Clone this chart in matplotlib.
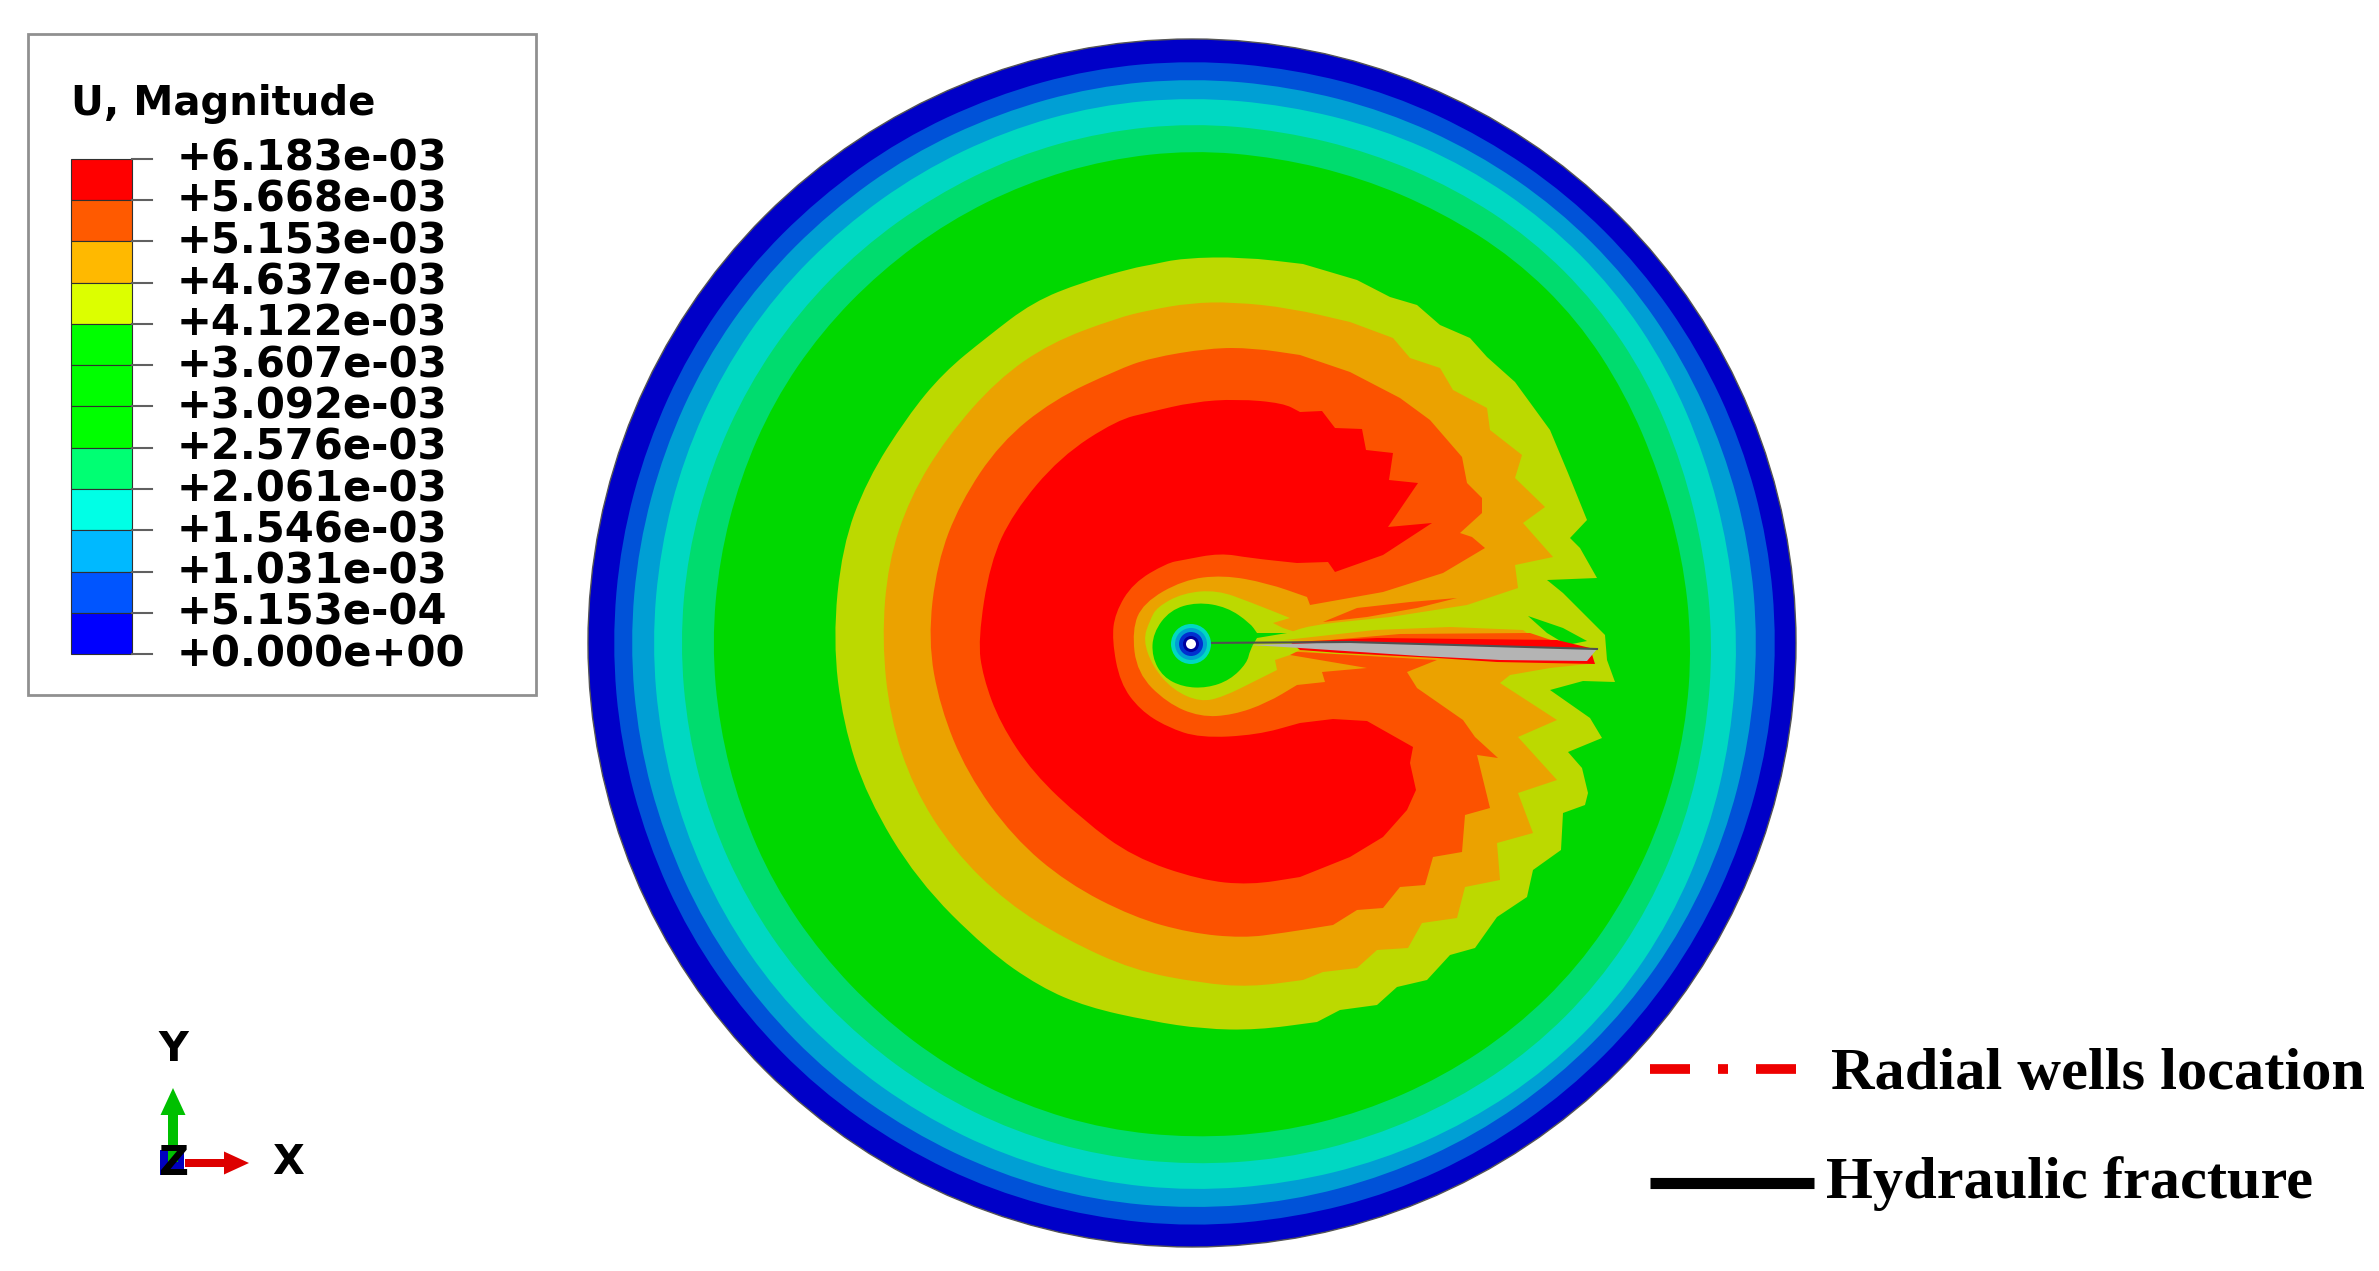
import numpy as np
import matplotlib
matplotlib.use("Agg")
import matplotlib.pyplot as plt
from matplotlib.patches import Circle, PathPatch, Rectangle
from matplotlib.path import Path

# colour scale of the legend
legend_title = "U, Magnitude"
legend_labels = ["+6.183e-03", "+5.668e-03", "+5.153e-03", "+4.637e-03", "+4.122e-03",
                 "+3.607e-03", "+3.092e-03", "+2.576e-03", "+2.061e-03", "+1.546e-03",
                 "+1.031e-03", "+5.153e-04", "+0.000e+00"]
legend_colors = ["#ff0000", "#ff5a00", "#ffb900", "#dcff00", "#00ff00", "#00ff00",
                 "#00ff00", "#00ff73", "#00ffe6", "#00b9ff", "#0055ff", "#0000ff"]

# outer rings, radius (px) every 10 deg, counter clockwise from +x
ring_angles = list(range(0, 360, 10))
ring_navy_blue = [585, 585, 585, 585, 585, 585, 584, 584, 583, 583, 583, 582, 582, 581, 581, 581, 580, 580,
                  580, 580, 580, 581, 581, 582, 582, 583, 583, 584, 584, 585, 585, 585, 585, 585, 585, 585]
ring_blue_sky = [566, 566, 566, 567, 568, 568, 567, 566, 565, 565, 565, 564, 564, 563, 563, 563, 562, 562,
                 562, 562, 562, 563, 563, 564, 564, 565, 566, 566, 567, 567, 568, 568, 568, 568, 567, 566]
ring_sky_teal = [546, 545, 546, 549, 551, 551, 550, 548, 546, 546, 546, 545, 544, 543, 543, 542, 541, 540,
                 540, 540, 541, 542, 543, 543, 544, 546, 547, 548, 549, 551, 553, 555, 555, 553, 550, 547]
ring_teal_mint = [521, 520, 522, 526, 528, 528, 525, 522, 520, 520, 519, 518, 516, 515, 514, 513, 512, 512,
                  512, 512, 513, 514, 515, 516, 518, 520, 521, 522, 524, 526, 528, 530, 530, 528, 525, 522]
ring_mint_green = [500, 498, 497, 500, 503, 502, 498, 495, 493, 493, 491, 489, 487, 485, 484, 483, 481, 480,
                   480, 480, 481, 483, 484, 486, 489, 492, 494, 495, 497, 499, 501, 503, 504, 503, 502, 501]

# contour outlines, image pixels
band_yellow = [(1150, 265), (1183, 258), (1243, 257), (1303, 264), (1357, 280), (1390, 297), (1417, 305),
               (1440, 325), (1470, 338), (1487, 357), (1515, 382), (1550, 430), (1568, 473), (1587, 520),
               (1570, 538), (1580, 548), (1597, 578), (1547, 580), (1563, 593), (1605, 635), (1607, 660),
               (1615, 682), (1583, 681), (1550, 690), (1590, 718), (1602, 738), (1568, 752), (1582, 768),
               (1588, 793), (1585, 805), (1563, 813), (1561, 850), (1533, 870), (1527, 897), (1497, 917),
               (1475, 948), (1450, 955), (1427, 980), (1397, 987), (1377, 1005), (1340, 1010), (1317, 1022),
               (1257, 1030), (1203, 1029), (1150, 1021), (1087, 1007), (1040, 987), (987, 950), (917, 880),
               (867, 797), (843, 723), (833, 640), (842, 547), (867, 480), (907, 417), (943, 373), (987, 337),
               (1033, 302), (1083, 282), (1133, 268)]
band_orange = [(1150, 310), (1190, 303), (1233, 302), (1290, 308), (1350, 322), (1393, 338), (1410, 358),
               (1440, 368), (1453, 390), (1487, 408), (1490, 430), (1522, 455), (1515, 478), (1545, 507),
               (1523, 523), (1553, 557), (1515, 565), (1518, 588), (1467, 605), (1390, 617), (1283, 628),
               (1283, 655), (1500, 655), (1597, 663), (1550, 668), (1510, 675), (1500, 683), (1557, 720),
               (1518, 737), (1557, 780), (1518, 793), (1533, 833), (1497, 843), (1500, 880), (1465, 887),
               (1457, 918), (1422, 923), (1408, 948), (1377, 950), (1357, 968), (1323, 972), (1303, 980),
               (1250, 987), (1200, 983), (1133, 970), (1067, 940), (1007, 903), (953, 850), (913, 787),
               (890, 717), (882, 640), (888, 563), (910, 497), (947, 437), (997, 380), (1050, 343), (1117, 318)]
band_scarlet = [(1150, 358), (1210, 348), (1253, 348), (1300, 355), (1350, 372), (1400, 398), (1430, 420),
                (1462, 457), (1467, 483), (1482, 498), (1482, 513), (1460, 533), (1472, 537), (1485, 548),
                (1443, 573), (1383, 592), (1310, 605), (1270, 610), (1270, 650), (1300, 652), (1437, 660),
                (1407, 672), (1417, 688), (1463, 720), (1475, 737), (1498, 758), (1477, 755), (1490, 808),
                (1465, 815), (1462, 852), (1433, 857), (1425, 885), (1400, 887), (1383, 908), (1357, 910),
                (1333, 925), (1283, 933), (1243, 938), (1190, 933), (1133, 917), (1067, 883), (1013, 837),
                (967, 773), (940, 707), (928, 640), (937, 563), (960, 503), (1000, 443), (1053, 400), (1117, 370)]
band_red = [(1150, 412), (1193, 402), (1237, 399), (1283, 403), (1300, 412), (1322, 411), (1335, 428),
            (1362, 429), (1366, 450), (1393, 453), (1389, 480), (1418, 483), (1388, 527), (1432, 523),
            (1383, 555), (1335, 572), (1328, 562), (1297, 563), (1250, 558), (1220, 553), (1183, 560),
            (1167, 563), (1133, 583), (1115, 613), (1112, 640), (1120, 683), (1140, 710), (1167, 727),
            (1200, 738), (1257, 735), (1300, 723), (1333, 719), (1367, 721), (1413, 747), (1410, 763),
            (1416, 790), (1407, 810), (1383, 837), (1350, 857), (1300, 877), (1250, 885), (1200, 880),
            (1133, 857), (1083, 820), (1033, 773), (1000, 723), (983, 677), (978, 640), (990, 563),
            (1013, 513), (1060, 457), (1117, 420)]
lens_scarlet = [(1323, 622), (1357, 608), (1410, 602), (1457, 598), (1417, 608), (1367, 617)]
bubble_orange = [(1132, 630), (1137, 673), (1167, 703), (1200, 717), (1233, 715), (1267, 703), (1297, 685),
                 (1325, 682), (1322, 672), (1367, 668), (1290, 655), (1283, 628), (1310, 605), (1307, 597),
                 (1267, 583), (1223, 575), (1183, 580), (1143, 603)]
bubble_yellow = [(1143, 640), (1153, 667), (1173, 690), (1200, 702), (1223, 697), (1257, 680), (1277, 670),
                 (1275, 660), (1290, 655), (1320, 640), (1283, 628), (1273, 623), (1290, 618), (1250, 602),
                 (1217, 590), (1183, 593), (1157, 607), (1150, 620)]
bubble_green = [(1153, 633), (1170, 610), (1197, 602), (1227, 607), (1250, 623), (1257, 633), (1287, 633),
                (1257, 638), (1250, 650), (1247, 663), (1230, 680), (1207, 688), (1183, 687), (1163, 677),
                (1152, 657)]
tip_green = [(1528, 616), (1563, 628), (1587, 641), (1567, 645), (1547, 633)]
strip_orange = [(1285, 640), (1375, 630), (1450, 627), (1523, 630), (1537, 641), (1563, 643), (1400, 645)]
strip_scarlet = [(1330, 640), (1400, 634), (1530, 633), (1560, 643), (1400, 648)]
fracture_red = [(1290, 642), (1377, 638), (1557, 640), (1590, 648), (1595, 664), (1497, 662), (1437, 658),
                (1340, 653), (1300, 650)]
fracture_grey = [(1250, 645), (1350, 642), (1597, 649), (1587, 661), (1500, 660), (1420, 656), (1360, 652),
                 (1300, 648)]
well_radii = [20, 16, 12, 8, 5]

legend_items = ["Radial wells location", "Hydraulic fracture"]

navy, blue, sky, teal, mint = "#0000c8", "#0052d8", "#009fd4", "#00d8c2", "#00dc6e"
green, yellow, orange, scarlet, red = "#00d800", "#bcd900", "#eba200", "#fc5200", "#ff0000"
well_colors = [teal, "#009fd4", "#0030d0", "#0000a0", "white"]

cx, cy = 1192, 643


def ring_points(radii):
    t = np.radians(ring_angles)
    return np.column_stack([cx + np.array(radii) * np.cos(t), cy - np.array(radii) * np.sin(t)])


# closed outline, corners left of sharp_from are rounded, the jagged ones stay
def outline_patch(points, color, sharp_from=99999):
    pts = np.asarray(points, dtype=float)
    n = len(pts)
    verts, codes = [], []
    for i in range(n):
        v, prev, nxt = pts[i], pts[i - 1], pts[(i + 1) % n]
        if v[0] < sharp_from:
            verts += [(prev + v) / 2, v, (v + nxt) / 2]
            codes += [Path.LINETO, Path.CURVE3, Path.CURVE3]
        else:
            verts.append(v)
            codes.append(Path.LINETO)
    codes[0] = Path.MOVETO
    verts.append(verts[0])
    codes.append(Path.CLOSEPOLY)
    return PathPatch(Path(np.array(verts), codes), fc=color, ec="none")


fig = plt.figure(figsize=(23.79, 12.71), dpi=100)
ax = fig.add_axes([0, 0, 1, 1])
ax.set_xlim(0, 2379)
ax.set_ylim(1271, 0)
ax.axis("off")

# model disc
ax.add_patch(Circle((cx, cy), 604, fc=navy, ec="#555555", lw=1))
for radii, color in [(ring_navy_blue, blue), (ring_blue_sky, sky), (ring_sky_teal, teal),
                     (ring_teal_mint, mint), (ring_mint_green, green)]:
    ax.add_patch(outline_patch(ring_points(radii), color))

for outline, color, sharp in [(band_yellow, yellow, 1300), (band_orange, orange, 1300),
                              (band_scarlet, scarlet, 1300), (band_red, red, 1290),
                              (lens_scarlet, scarlet, 0), (bubble_orange, orange, 1280),
                              (bubble_yellow, yellow, 1265), (bubble_green, green, 1255),
                              (tip_green, green, 0), (strip_orange, orange, 0),
                              (strip_scarlet, scarlet, 0), (fracture_red, red, 0),
                              (fracture_grey, "#b4b4b4", 0)]:
    ax.add_patch(outline_patch(outline, color, sharp))

ax.plot([1197, 1350, 1597], [643, 642, 649], color="#505050", lw=1.5)
for r, color in zip(well_radii, well_colors):
    ax.add_patch(Circle((cx - 1, cy + 1), r, fc=color, ec="none", zorder=3))

# legend box and colour bar
ax.add_patch(Rectangle((28, 34), 508, 661, fc="white", ec="#909090", lw=2))
ax.text(71, 104, legend_title, fontsize=29, fontweight="bold", va="center", ha="left")
bar_top, bar_step = 158.6, 41.3
for i, color in enumerate(legend_colors):
    ax.add_patch(Rectangle((71, bar_top + i * bar_step), 61, bar_step, fc=color, ec="#303030", lw=0.8))
for i, label in enumerate(legend_labels):
    y = bar_top + i * bar_step
    ax.plot([132, 152], [y, y], color="#606060", lw=1.5)
    ax.text(177, y, label, fontsize=30.1, fontweight="bold", va="center", ha="left")

# triad
ax.add_patch(Rectangle((160, 1150), 24, 25, fc="#0000c0", ec="none"))
ax.arrow(173, 1162, 0, -74, width=10, head_width=25, head_length=27, length_includes_head=True,
         fc="#00c000", ec="none")
ax.arrow(185, 1163, 64, 0, width=8, head_width=23, head_length=25, length_includes_head=True,
         fc="#dd0000", ec="none")
ax.text(173, 1050, "Y", fontsize=29.7, fontweight="bold", va="center", ha="center")
ax.text(173, 1164, "Z", fontsize=29.7, fontweight="bold", va="center", ha="center")
ax.text(288, 1163, "X", fontsize=29.7, fontweight="bold", va="center", ha="center")

# line key
ax.plot([1650, 1690], [1069, 1069], color="#ee0000", lw=7, solid_capstyle="butt")
ax.plot([1718, 1728], [1069, 1069], color="#ee0000", lw=7, solid_capstyle="butt")
ax.plot([1756, 1796], [1069, 1069], color="#ee0000", lw=7, solid_capstyle="butt")
ax.plot([1650, 1814], [1183, 1183], color="black", lw=8, solid_capstyle="butt")
ax.text(1831, 1075, legend_items[0], family="Liberation Serif", fontweight="bold", fontsize=43.5,
        va="center", ha="left")
ax.text(1826, 1184, legend_items[1], family="Liberation Serif", fontweight="bold", fontsize=43.5,
        va="center", ha="left")

fig.savefig("out.png", dpi=100)
